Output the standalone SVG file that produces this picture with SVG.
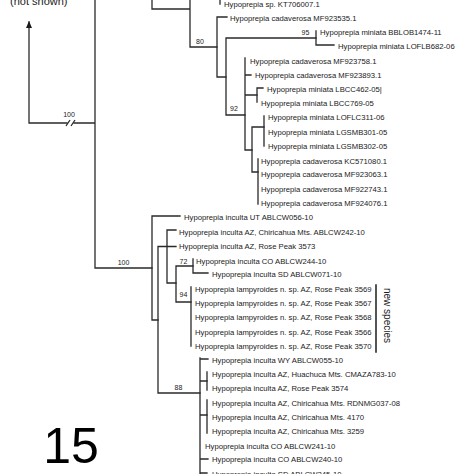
<svg xmlns="http://www.w3.org/2000/svg" width="474" height="474" viewBox="0 0 474 474">
<style>
.e{fill:none;stroke:#2a2a2a;stroke-width:1.3;stroke-linecap:square}
.t{font-family:"Liberation Sans",Arial,sans-serif;font-size:7.7px;fill:#1a1a1a}
.s{font-family:"Liberation Sans",Arial,sans-serif;font-size:7px;fill:#1a1a1a;text-anchor:middle}
</style>
<defs>
<marker id="ah" markerWidth="7" markerHeight="6" refX="6" refY="3" orient="auto" markerUnits="userSpaceOnUse" viewBox="0 0 7 6">
<path d="M0,0 L7,3 L0,6 Z" fill="#1a1a1a"/>
</marker>
</defs>
<rect width="474" height="474" fill="#fff"/>
<g id="connectors" class="e">
<path d="M67,123 H29 V22" marker-end="url(#ah)"/>
<path d="M66,126 L70,120 M71,126 L75,120" stroke-linecap="butt"/>
<path d="M74,123 H95 M95,-2 V268 H152"/>
<path d="M152,-2 V9 H190 M190,-2 V47 H217 M220,-2 V4"/>
<path d="M217,17 V77 M217,17 H227 M217,77 H226"/>
<path d="M226,38 V115 M226,38 H316 M226,115 H245"/>
<path d="M316,31 V45 H334"/>
<path d="M245,58 V150 M245,75 H251 M245,95 H257 M245,150 H252"/>
<path d="M257,88 V102 M257,88 H263"/>
<path d="M252,127 V172 M252,127 H264 M252,172 H258"/>
<path d="M264,116 V146 M258,159 V204"/>
<path d="M152,216 V320 M152,216 H180 M152,320 H158"/>
<path d="M158,246.5 V393 M158,246.5 H176 M158,393 H200"/>
<path d="M167,230 V283 M167,230 H176 M167,283 H176"/>
<path d="M176,266 V302 M176,266 H193 M176,302 H191"/>
<path d="M193,259 V273 H208"/>
<path d="M191,287 V346"/>
<path d="M200,358 V480 M200,359 H208 M200,381 H207 M200,415 H207 M200,459 H208 M200,473 H207"/>
<path d="M207,372 V390 M207,400 V433"/>
<path d="M376,285 V352" stroke-width="1.6"/>
</g>
<g id="outgroup"><text class="t" x="10" y="5" style="font-size:11px">(not shown)</text></g>
<g id="supports">
<text class="s" x="69" y="117">100</text>
<text class="s" x="200" y="43.5">80</text>
<text class="s" x="305.5" y="34.5">95</text>
<text class="s" x="234" y="110.5">92</text>
<text class="s" x="123.5" y="264.5">100</text>
<text class="s" x="183.5" y="263.5">72</text>
<text class="s" x="183.5" y="296.5">94</text>
<text class="s" x="178.5" y="389.5">88</text>
</g>
<g id="leaf-KT706007"><text class="t" x="224" y="6.5">Hypoprepia sp. KT706007.1</text></g>
<g id="leaf-MF923535"><text class="t" x="230" y="20.5">Hypoprepia cadaverosa MF923535.1</text></g>
<g id="leaf-BBLOB1474"><text class="t" x="320" y="34.5">Hypoprepia miniata BBLOB1474-11</text></g>
<g id="leaf-LOFLB682"><text class="t" x="338" y="48.5">Hypoprepia miniata LOFLB682-06</text></g>
<g id="leaf-MF923758"><text class="t" x="250" y="63.5">Hypoprepia cadaverosa MF923758.1</text></g>
<g id="leaf-MF923893"><text class="t" x="255" y="77.5">Hypoprepia cadaverosa MF923893.1</text></g>
<g id="leaf-LBCC462"><text class="t" x="267" y="91.5">Hypoprepia miniata LBCC462-05|</text></g>
<g id="leaf-LBCC769"><text class="t" x="261" y="105.5">Hypoprepia miniata LBCC769-05</text></g>
<g id="leaf-LOFLC311"><text class="t" x="268" y="119.5">Hypoprepia miniata LOFLC311-06</text></g>
<g id="leaf-LGSMB301"><text class="t" x="268" y="134.5">Hypoprepia miniata LGSMB301-05</text></g>
<g id="leaf-LGSMB302"><text class="t" x="268" y="148.5">Hypoprepia miniata LGSMB302-05</text></g>
<g id="leaf-KC571080"><text class="t" x="261" y="163.5">Hypoprepia cadaverosa KC571080.1</text></g>
<g id="leaf-MF923063"><text class="t" x="261" y="176.5">Hypoprepia cadaverosa MF923063.1</text></g>
<g id="leaf-MF922743"><text class="t" x="261" y="191.5">Hypoprepia cadaverosa MF922743.1</text></g>
<g id="leaf-MF924076"><text class="t" x="261" y="205.5">Hypoprepia cadaverosa MF924076.1</text></g>
<g id="leaf-ABLCW056"><text class="t" x="184" y="219.5">Hypoprepia inculta UT ABLCW056-10</text></g>
<g id="leaf-ABLCW242"><text class="t" x="179" y="234.5">Hypoprepia inculta AZ, Chiricahua Mts. ABLCW242-10</text></g>
<g id="leaf-RP3573"><text class="t" x="179" y="248.5">Hypoprepia inculta AZ, Rose Peak 3573</text></g>
<g id="leaf-ABLCW244"><text class="t" x="196" y="263.5">Hypoprepia inculta CO  ABLCW244-10</text></g>
<g id="leaf-ABLCW071"><text class="t" x="212" y="276.5">Hypoprepia inculta SD ABLCW071-10</text></g>
<g id="leaf-RP3569"><text class="t" x="195" y="291.5">Hypoprepia lampyroides n. sp. AZ, Rose Peak 3569</text></g>
<g id="leaf-RP3567"><text class="t" x="195" y="305.5">Hypoprepia lampyroides n. sp. AZ, Rose Peak 3567</text></g>
<g id="leaf-RP3568"><text class="t" x="195" y="319.5">Hypoprepia lampyroides n. sp. AZ, Rose Peak 3568</text></g>
<g id="leaf-RP3566"><text class="t" x="195" y="334.5">Hypoprepia lampyroides n. sp. AZ, Rose Peak 3566</text></g>
<g id="leaf-RP3570"><text class="t" x="195" y="348.5">Hypoprepia lampyroides n. sp. AZ, Rose Peak 3570</text></g>
<g id="new-species"><text x="384" y="288" transform="rotate(90 384 288)" style="font-family:'Liberation Sans',Arial,sans-serif;font-size:10px;fill:#1a1a1a">new species</text></g>
<g id="leaf-ABLCW055"><text class="t" x="212" y="362.5">Hypoprepia inculta WY ABLCW055-10</text></g>
<g id="leaf-CMAZA783"><text class="t" x="212" y="376.5">Hypoprepia inculta AZ, Huachuca Mts. CMAZA783-10</text></g>
<g id="leaf-RP3574"><text class="t" x="212" y="390.5">Hypoprepia inculta AZ, Rose Peak 3574</text></g>
<g id="leaf-RDNMG037"><text class="t" x="212" y="405.5">Hypoprepia inculta AZ, Chiricahua Mts. RDNMG037-08</text></g>
<g id="leaf-C4170"><text class="t" x="212" y="419.5">Hypoprepia inculta AZ, Chiricahua Mts. 4170</text></g>
<g id="leaf-C3259"><text class="t" x="212" y="433.5">Hypoprepia inculta AZ, Chiricahua Mts. 3259</text></g>
<g id="leaf-ABLCW241"><text class="t" x="205" y="448.5">Hypoprepia inculta CO ABLCW241-10</text></g>
<g id="leaf-ABLCW240"><text class="t" x="212" y="461.5">Hypoprepia inculta CO ABLCW240-10</text></g>
<g id="leaf-ABLCW245"><text class="t" x="212" y="476.5">Hypoprepia inculta SD ABLCW245-10</text></g>
<g id="panel-number"><text x="71" y="463" text-anchor="middle" style="font-family:'Liberation Sans',Arial,sans-serif;font-size:50px;fill:#000">15</text></g>
</svg>
